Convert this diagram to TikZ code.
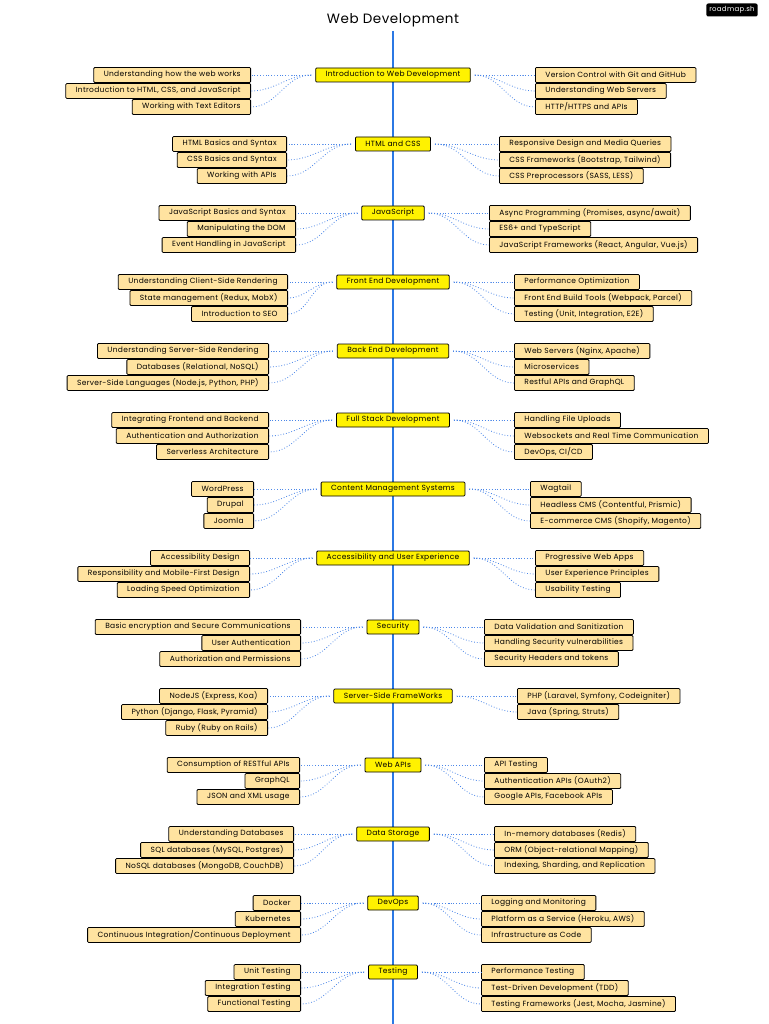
\documentclass[tikz,border=0pt]{standalone}
\usepackage{fontspec}
\setmainfont{Poppins}[LetterSpace=4]
\definecolor{spine}{HTML}{2B78E4}
\definecolor{conncol}{HTML}{4A86E8}
\definecolor{itemfill}{HTML}{FFE3A0}
\tikzset{
  mainbox/.style={draw=black,line width=0.8pt,fill=yellow,rounded corners=1pt,font=\fontsize{7.5}{8}\selectfont,minimum height=14pt,inner xsep=10pt,inner ysep=0pt},
  itembox/.style={draw=black,line width=0.8pt,fill=itemfill,rounded corners=1pt,font=\fontsize{7.5}{8}\selectfont,minimum height=15pt,inner xsep=10pt,inner ysep=0pt},
  conn/.style={conncol,line width=0.8pt,dotted}
}
\newcommand\sect[3]{\node[mainbox] (m#1) at (393,#2) {#3};}
\newcommand\litems[4]{\foreach \t [count=\i] in {#4} {
  \node[itembox,anchor=east] (l#1-\i) at (#3,{#2+16*(\i-1)}) {\t};
  \draw[conn] ([xshift=-4pt]m#1.west) to[out=180,in=0] (l#1-\i.east);}}
\newcommand\ritems[4]{\foreach \t [count=\i] in {#4} {
  \node[itembox,anchor=west] (r#1-\i) at (#3,{#2+16*(\i-1)}) {\t};
  \draw[conn] ([xshift=4pt]m#1.east) to[out=0,in=180] (r#1-\i.west);}}
\begin{document}
\begin{tikzpicture}[x=1pt,y=-1pt]
\useasboundingbox[fill=white] (0,0) rectangle (768,1024);
\node (title) at (393,20) {\fontsize{13.5}{15}\selectfont Web Development};
\node[fill=black,text=white,rounded corners=2pt,font=\fontsize{7}{8}\selectfont,inner sep=3pt] (badge) at (732,10) {roadmap.sh};
\coordinate (top) at (393,31);
\coordinate (bot) at (393,1024);
\draw[spine,line width=2pt] (top) -- (bot);

\sect{1}{75}{Introduction to Web Development}
\litems{1}{75}{251}{Understanding how the web works,{Introduction to HTML, CSS, and JavaScript},Working with Text Editors}
\ritems{1}{75}{535}{Version Control with Git and GitHub,Understanding Web Servers,HTTP/HTTPS and APIs}

\sect{2}{144}{HTML and CSS}
\litems{2}{144}{287}{HTML Basics and Syntax,CSS Basics and Syntax,Working with APIs}
\ritems{2}{144}{499}{Responsive Design and Media Queries,{CSS Frameworks (Bootstrap, Tailwind)},{CSS Preprocessors (SASS, LESS)}}

\sect{3}{213}{JavaScript}
\litems{3}{213}{296}{JavaScript Basics and Syntax,Manipulating the DOM,Event Handling in JavaScript}
\ritems{3}{213}{489}{{Async Programming (Promises, async/await)},ES6+ and TypeScript,{JavaScript Frameworks (React, Angular, Vue.js)}}

\sect{4}{282}{Front End Development}
\litems{4}{282}{288}{Understanding Client-Side Rendering,{State management (Redux, MobX)},Introduction to SEO}
\ritems{4}{282}{514}{Performance Optimization,{Front End Build Tools (Webpack, Parcel)},{Testing (Unit, Integration, E2E)}}

\sect{5}{351}{Back End Development}
\litems{5}{351}{269}{Understanding Server-Side Rendering,{Databases (Relational, NoSQL)},{Server-Side Languages (Node.js, Python, PHP)}}
\ritems{5}{351}{514}{{Web Servers (Nginx, Apache)},Microservices,Restful APIs and GraphQL}

\sect{6}{420}{Full Stack Development}
\litems{6}{420}{269}{Integrating Frontend and Backend,Authentication and Authorization,Serverless Architecture}
\ritems{6}{420}{514}{Handling File Uploads,Websockets and Real Time Communication,{DevOps, CI/CD}}

\sect{7}{489}{Content Management Systems}
\litems{7}{489}{254}{WordPress,Drupal,Joomla}
\ritems{7}{489}{530}{Wagtail,{Headless CMS (Contentful, Prismic)},{E-commerce CMS (Shopify, Magento)}}

\sect{8}{558}{Accessibility and User Experience}
\litems{8}{558}{250}{Accessibility Design,Responsibility and Mobile-First Design,Loading Speed Optimization}
\ritems{8}{558}{535}{Progressive Web Apps,User Experience Principles,Usability Testing}

\sect{9}{627}{Security}
\litems{9}{627}{301}{Basic encryption and Secure Communications,User Authentication,Authorization and Permissions}
\ritems{9}{627}{484}{Data Validation and Sanitization,Handling Security vulnerabilities,Security Headers and tokens}

\sect{10}{696}{Server-Side FrameWorks}
\litems{10}{696}{268}{{NodeJS (Express, Koa)},{Python (Django, Flask, Pyramid)},Ruby (Ruby on Rails)}
\ritems{10}{696}{517}{{PHP (Laravel, Symfony, Codeigniter)},{Java (Spring, Struts)}}

\sect{11}{765}{Web APIs}
\litems{11}{765}{300}{Consumption of RESTful APIs,GraphQL,JSON and XML usage}
\ritems{11}{765}{484}{API Testing,Authentication APIs (OAuth2),{Google APIs, Facebook APIs}}

\sect{12}{834}{Data Storage}
\litems{12}{834}{294}{Understanding Databases,{SQL databases (MySQL, Postgres)},{NoSQL databases (MongoDB, CouchDB)}}
\ritems{12}{834}{494}{In-memory databases (Redis),ORM (Object-relational Mapping),{Indexing, Sharding, and Replication}}

\sect{13}{903}{DevOps}
\litems{13}{903}{301}{Docker,Kubernetes,Continuous Integration/Continuous Deployment}
\ritems{13}{903}{481}{Logging and Monitoring,{Platform as a Service (Heroku, AWS)},Infrastructure as Code}

\sect{14}{972}{Testing}
\litems{14}{972}{301}{Unit Testing,Integration Testing,Functional Testing}
\ritems{14}{972}{481}{Performance Testing,Test-Driven Development (TDD),{Testing Frameworks (Jest, Mocha, Jasmine)}}
\end{tikzpicture}
\end{document}
